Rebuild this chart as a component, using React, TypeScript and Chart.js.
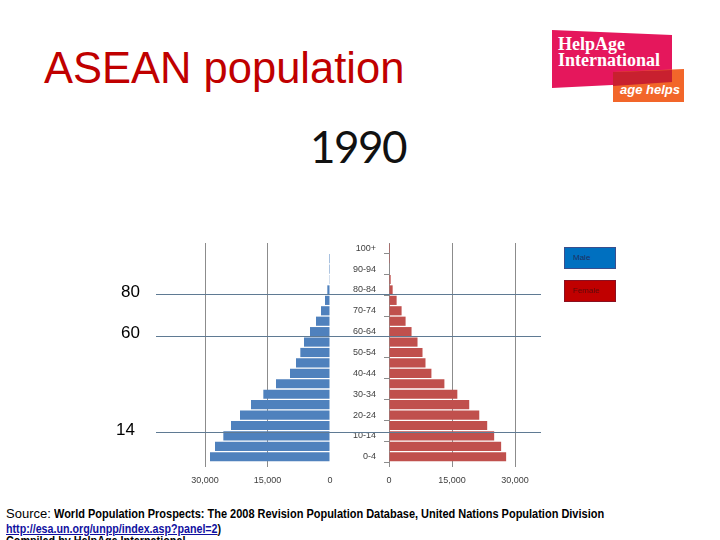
import React, { useEffect, useRef } from "react";
import { Chart, registerables } from "chart.js";

Chart.register(...registerables);

// ---- data (thousands) ----
const ageGroups = [
  "0-4", "5-9", "10-14", "15-19", "20-24", "25-29", "30-34", "35-39", "40-44", "45-49",
  "50-54", "55-59", "60-64", "65-69", "70-74", "75-79", "80-84", "85-89", "90-94", "95-99", "100+",
];
const maleValues = [
  28800, 27600, 25600, 23760, 21600, 18960, 16000, 12960, 9600, 8160,
  7120, 6240, 4800, 3360, 2160, 1200, 640, 60, 10, 2, 0,
];
const femaleValues = [
  27890, 26700, 25040, 23380, 21490, 19100, 16270, 13190, 10100, 8690,
  7980, 6790, 5370, 3950, 3000, 1815, 870, 400, 120, 20, 2,
];
const axisTickValues = [0, 15000, 30000];
const axisMax = 30000;

const maleColor = "#4F81BD";
const femaleColor = "#C0504D";
const gridColor = "#8C8C8C";
const tickTextColor = "#404040";
const tickFont = { family: "'Liberation Sans', Arial, sans-serif", size: 9 };

const fmt = (v: any) => Number(v).toLocaleString("en-US");

function fixX(s: any) {
  s.height = 30;
  s.paddingLeft = 0;
  s.paddingRight = 0;
}

function makeConfig(side: "male" | "female"): any {
  const isMale = side === "male";
  return {
    type: "bar",
    data: {
      labels: ageGroups,
      datasets: [
        {
          label: isMale ? "Male" : "Female",
          data: isMale ? maleValues : femaleValues,
          backgroundColor: isMale ? maleColor : femaleColor,
          borderWidth: 0,
          categoryPercentage: 1,
          barPercentage: 0.88,
        },
      ],
    },
    options: {
      indexAxis: "y",
      animation: false,
      responsive: false,
      maintainAspectRatio: false,
      layout: {
        padding: isMale
          ? { left: 20, right: 10, top: 0, bottom: 0 }
          : { left: 0, right: 20, top: 0, bottom: 0 },
      },
      plugins: { legend: { display: false }, tooltip: { enabled: false } },
      scales: {
        x: {
          type: "linear",
          reverse: isMale,
          min: 0,
          max: axisMax,
          afterBuildTicks: (s: any) => {
            s.ticks = axisTickValues.map((v) => ({ value: v }));
          },
          afterFit: fixX,
          ticks: {
            callback: fmt,
            font: tickFont,
            color: tickTextColor,
            padding: 8,
            maxRotation: 0,
            autoSkip: false,
          },
          grid: {
            color: (ctx: any) =>
              isMale && ctx.tick && ctx.tick.value === 0 ? "rgba(0,0,0,0)" : gridColor,
            tickColor: (ctx: any) =>
              isMale && ctx.tick && ctx.tick.value === 0 ? "rgba(0,0,0,0)" : gridColor,
            tickLength: 5,
            lineWidth: 1,
          },
          border: { display: false },
        },
        y: {
          type: "category",
          reverse: true,
          offset: true,
          display: !isMale,
          afterFit: (s: any) => {
            s.width = isMale ? 0 : 50;
            s.paddingTop = 0;
            s.paddingBottom = 0;
          },
          ticks: {
            autoSkip: false,
            font: tickFont,
            color: tickTextColor,
            padding: 8,
            callback: (_v: any, i: number) => (i % 2 === 0 ? ageGroups[i] : ""),
          },
          grid: {
            offset: true,
            drawOnChartArea: false,
            drawTicks: true,
            tickLength: 5,
            color: (ctx: any) => (ctx.index !== undefined && ctx.index % 2 === 0 ? gridColor : "rgba(0,0,0,0)"),
            tickColor: (ctx: any) => (ctx.index !== undefined && ctx.index % 2 === 0 ? gridColor : "rgba(0,0,0,0)"),
          },
          border: { display: true, color: gridColor },
        },
      },
    },
  };
}

function PyramidSide({ side, left, width }: { side: "male" | "female"; left: number; width: number }) {
  const ref = useRef<HTMLCanvasElement | null>(null);
  useEffect(() => {
    if (!ref.current) return;
    const chart = new Chart(ref.current, makeConfig(side));
    return () => chart.destroy();
  }, [side]);
  return (
    <canvas
      ref={ref}
      width={width}
      height={249}
      style={{ position: "absolute", left, top: 243, width, height: 249 }}
    />
  );
}

const abs = (o: any) => ({ position: "absolute", ...o } as React.CSSProperties);

export default function App() {
  useEffect(() => {
    document.body.style.margin = "0";
  }, []);
  const annotations = [
    { label: "80", lineY: 294, top: 283, left: 121 },
    { label: "60", lineY: 336, top: 324, left: 121 },
    { label: "14", lineY: 432, top: 421, left: 116 },
  ];
  const narrow: React.CSSProperties = {
    display: "inline-block",
    fontWeight: "bold",
    fontSize: 12,
    transformOrigin: "0 50%",
  };
  return (
    <div
      style={abs({
        left: 0,
        top: 0,
        width: 720,
        height: 540,
        overflow: "hidden",
        background: "#fff",
        fontFamily: "'Liberation Sans', Arial, sans-serif",
      })}
    >
      {/* Title */}
      <div style={abs({ left: 44, top: 47, fontSize: 43.5, lineHeight: "43px", color: "#C00000", whiteSpace: "nowrap" })}>
        ASEAN population
      </div>
      <div
        style={abs({
          left: 258,
          top: 124,
          width: 200,
          textAlign: "center",
          fontFamily: "Lato, sans-serif",
          fontSize: 44,
          lineHeight: "44px",
          letterSpacing: -1.5,
          color: "#111",
        })}
      >
        1990
      </div>

      {/* Logo */}
      <div style={abs({ left: 552, top: 30, width: 120, height: 58, background: "#E5175C", clipPath: "polygon(0 0, 100% 5px, 100% 52px, 0 100%)" })} />
      <div style={abs({ left: 613, top: 69, width: 71, height: 33, background: "#F2662A", clipPath: "polygon(0 3px, 100% 0, 100% 100%, 0 100%)" })} />
      <div style={abs({ left: 613, top: 69, width: 59, height: 17, background: "#C8202F", clipPath: "polygon(0 3px, 100% 1px, 100% 13px, 0 100%)" })} />
      <div style={abs({ left: 558, top: 36, color: "#fff", fontFamily: "'Liberation Serif', serif", fontWeight: "bold", fontSize: 18, lineHeight: "16px", whiteSpace: "nowrap" })}>
        HelpAge
        <br />
        International
      </div>
      <div style={abs({ left: 620, top: 83, color: "#fff", fontWeight: "bold", fontStyle: "italic", fontSize: 13, lineHeight: "14px", whiteSpace: "nowrap" })}>
        age helps
      </div>

      {/* Charts */}
      <PyramidSide side="male" left={185} width={155} />
      <PyramidSide side="female" left={339} width={196} />

      {/* Legend boxes */}
      <div style={abs({ left: 564, top: 247, background: "#0070C0", border: "1px solid #3A4E8C", fontSize: 8, lineHeight: "20px", color: "#1F2F5F", paddingLeft: 8, boxSizing: "border-box", width: 52, height: 22 })}>
        Male
      </div>
      <div style={abs({ left: 564, top: 280, background: "#C00000", border: "1px solid #8A1020", fontSize: 8, lineHeight: "20px", color: "#5A0A0A", paddingLeft: 8, boxSizing: "border-box", width: 52, height: 22 })}>
        Female
      </div>

      {/* Annotation lines */}
      {annotations.map((a) => (
        <React.Fragment key={a.label}>
          <div style={abs({ left: 156, top: a.lineY, width: 385, height: 1, background: "#5F7A93" })} />
          <div style={abs({ left: a.left, top: a.top, fontSize: 17, lineHeight: "17px", color: "#000" })}>{a.label}</div>
        </React.Fragment>
      ))}

      {/* Source */}
      <div style={abs({ left: 6, top: 507, whiteSpace: "nowrap", fontSize: 12, lineHeight: "14px", color: "#000" })}>
        <span style={{ fontSize: 13 }}>Source: </span>
        <span style={{ ...narrow, transform: "scaleX(0.915)" }}>
          World Population Prospects: The 2008 Revision Population Database, United Nations Population Division
        </span>
      </div>
      <div style={abs({ left: 6, top: 521, whiteSpace: "nowrap", lineHeight: "14px" })}>
        <span style={{ ...narrow, transform: "scaleX(0.89)" }}>
          <span style={{ color: "#1010A0", textDecoration: "underline" }}>http://esa.un.org/unpp/index.asp?panel=2</span>
          <span style={{ color: "#000" }}>)</span>
        </span>
      </div>
      <div style={abs({ left: 6, top: 533, whiteSpace: "nowrap", lineHeight: "14px", color: "#000" })}>
        <span style={{ ...narrow, transform: "scaleX(0.9)" }}>Compiled by HelpAge International</span>
      </div>
    </div>
  );
}
